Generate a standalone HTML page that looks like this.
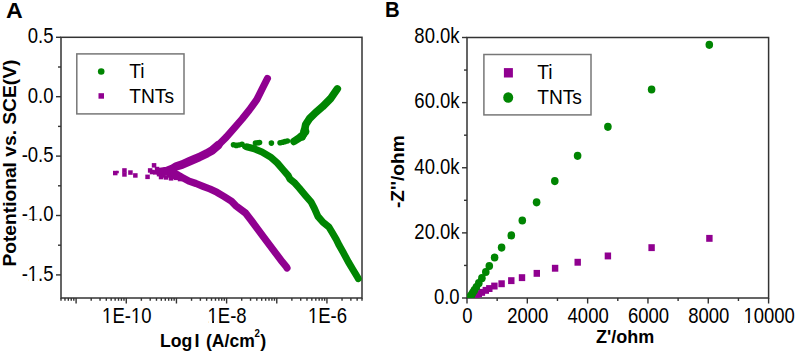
<!DOCTYPE html>
<html><head><meta charset="utf-8"><style>
html,body{margin:0;padding:0;background:#fff;}
svg{display:block;font-family:"Liberation Sans",sans-serif;}
</style></head><body>
<svg width="796" height="354" viewBox="0 0 796 354">
<rect width="796" height="354" fill="#fff"/>
<rect x="61" y="37.3" width="301" height="260.7" fill="none" stroke="#333" stroke-width="1.5"/>
<line x1="61.00" y1="298.00" x2="61.00" y2="300.80" stroke="#333" stroke-width="1.4"/>
<line x1="64.97" y1="298.00" x2="64.97" y2="300.80" stroke="#333" stroke-width="1.4"/>
<line x1="68.33" y1="298.00" x2="68.33" y2="300.80" stroke="#333" stroke-width="1.4"/>
<line x1="71.24" y1="298.00" x2="71.24" y2="300.80" stroke="#333" stroke-width="1.4"/>
<line x1="73.81" y1="298.00" x2="73.81" y2="300.80" stroke="#333" stroke-width="1.4"/>
<line x1="76.10" y1="298.00" x2="76.10" y2="303.50" stroke="#333" stroke-width="1.4"/>
<line x1="91.20" y1="298.00" x2="91.20" y2="300.80" stroke="#333" stroke-width="1.4"/>
<line x1="100.04" y1="298.00" x2="100.04" y2="300.80" stroke="#333" stroke-width="1.4"/>
<line x1="106.31" y1="298.00" x2="106.31" y2="300.80" stroke="#333" stroke-width="1.4"/>
<line x1="111.17" y1="298.00" x2="111.17" y2="300.80" stroke="#333" stroke-width="1.4"/>
<line x1="115.14" y1="298.00" x2="115.14" y2="300.80" stroke="#333" stroke-width="1.4"/>
<line x1="118.50" y1="298.00" x2="118.50" y2="300.80" stroke="#333" stroke-width="1.4"/>
<line x1="121.41" y1="298.00" x2="121.41" y2="300.80" stroke="#333" stroke-width="1.4"/>
<line x1="123.97" y1="298.00" x2="123.97" y2="300.80" stroke="#333" stroke-width="1.4"/>
<line x1="126.27" y1="298.00" x2="126.27" y2="303.50" stroke="#333" stroke-width="1.4"/>
<line x1="141.37" y1="298.00" x2="141.37" y2="300.80" stroke="#333" stroke-width="1.4"/>
<line x1="150.20" y1="298.00" x2="150.20" y2="300.80" stroke="#333" stroke-width="1.4"/>
<line x1="156.47" y1="298.00" x2="156.47" y2="300.80" stroke="#333" stroke-width="1.4"/>
<line x1="161.33" y1="298.00" x2="161.33" y2="300.80" stroke="#333" stroke-width="1.4"/>
<line x1="165.31" y1="298.00" x2="165.31" y2="300.80" stroke="#333" stroke-width="1.4"/>
<line x1="168.66" y1="298.00" x2="168.66" y2="300.80" stroke="#333" stroke-width="1.4"/>
<line x1="171.57" y1="298.00" x2="171.57" y2="300.80" stroke="#333" stroke-width="1.4"/>
<line x1="174.14" y1="298.00" x2="174.14" y2="300.80" stroke="#333" stroke-width="1.4"/>
<line x1="176.44" y1="298.00" x2="176.44" y2="303.50" stroke="#333" stroke-width="1.4"/>
<line x1="191.54" y1="298.00" x2="191.54" y2="300.80" stroke="#333" stroke-width="1.4"/>
<line x1="200.37" y1="298.00" x2="200.37" y2="300.80" stroke="#333" stroke-width="1.4"/>
<line x1="206.64" y1="298.00" x2="206.64" y2="300.80" stroke="#333" stroke-width="1.4"/>
<line x1="211.50" y1="298.00" x2="211.50" y2="300.80" stroke="#333" stroke-width="1.4"/>
<line x1="215.47" y1="298.00" x2="215.47" y2="300.80" stroke="#333" stroke-width="1.4"/>
<line x1="218.83" y1="298.00" x2="218.83" y2="300.80" stroke="#333" stroke-width="1.4"/>
<line x1="221.74" y1="298.00" x2="221.74" y2="300.80" stroke="#333" stroke-width="1.4"/>
<line x1="224.31" y1="298.00" x2="224.31" y2="300.80" stroke="#333" stroke-width="1.4"/>
<line x1="226.60" y1="298.00" x2="226.60" y2="303.50" stroke="#333" stroke-width="1.4"/>
<line x1="241.70" y1="298.00" x2="241.70" y2="300.80" stroke="#333" stroke-width="1.4"/>
<line x1="250.54" y1="298.00" x2="250.54" y2="300.80" stroke="#333" stroke-width="1.4"/>
<line x1="256.81" y1="298.00" x2="256.81" y2="300.80" stroke="#333" stroke-width="1.4"/>
<line x1="261.67" y1="298.00" x2="261.67" y2="300.80" stroke="#333" stroke-width="1.4"/>
<line x1="265.64" y1="298.00" x2="265.64" y2="300.80" stroke="#333" stroke-width="1.4"/>
<line x1="269.00" y1="298.00" x2="269.00" y2="300.80" stroke="#333" stroke-width="1.4"/>
<line x1="271.91" y1="298.00" x2="271.91" y2="300.80" stroke="#333" stroke-width="1.4"/>
<line x1="274.47" y1="298.00" x2="274.47" y2="300.80" stroke="#333" stroke-width="1.4"/>
<line x1="276.77" y1="298.00" x2="276.77" y2="303.50" stroke="#333" stroke-width="1.4"/>
<line x1="291.87" y1="298.00" x2="291.87" y2="300.80" stroke="#333" stroke-width="1.4"/>
<line x1="300.70" y1="298.00" x2="300.70" y2="300.80" stroke="#333" stroke-width="1.4"/>
<line x1="306.97" y1="298.00" x2="306.97" y2="300.80" stroke="#333" stroke-width="1.4"/>
<line x1="311.83" y1="298.00" x2="311.83" y2="300.80" stroke="#333" stroke-width="1.4"/>
<line x1="315.81" y1="298.00" x2="315.81" y2="300.80" stroke="#333" stroke-width="1.4"/>
<line x1="319.16" y1="298.00" x2="319.16" y2="300.80" stroke="#333" stroke-width="1.4"/>
<line x1="322.07" y1="298.00" x2="322.07" y2="300.80" stroke="#333" stroke-width="1.4"/>
<line x1="324.64" y1="298.00" x2="324.64" y2="300.80" stroke="#333" stroke-width="1.4"/>
<line x1="326.94" y1="298.00" x2="326.94" y2="303.50" stroke="#333" stroke-width="1.4"/>
<line x1="342.04" y1="298.00" x2="342.04" y2="300.80" stroke="#333" stroke-width="1.4"/>
<line x1="350.87" y1="298.00" x2="350.87" y2="300.80" stroke="#333" stroke-width="1.4"/>
<line x1="357.14" y1="298.00" x2="357.14" y2="300.80" stroke="#333" stroke-width="1.4"/>
<line x1="362.00" y1="298.00" x2="362.00" y2="300.80" stroke="#333" stroke-width="1.4"/>
<g transform="translate(126.77,322.60) scale(1.0,1.18)"><text id="one0" font-size="18.5" text-anchor="middle">1E-10</text><rect x="-23.85" y="-1.49" width="3.74" height="2.29" fill="#fff"/><rect x="-18.28" y="-1.49" width="3.65" height="2.29" fill="#fff"/><rect x="4.91" y="-1.49" width="3.74" height="2.29" fill="#fff"/><rect x="10.48" y="-1.49" width="3.65" height="2.29" fill="#fff"/></g>
<g transform="translate(227.10,322.60) scale(1.0,1.18)"><text id="one1" font-size="18.5" text-anchor="middle">1E-8</text><rect x="-18.72" y="-1.49" width="3.74" height="2.29" fill="#fff"/><rect x="-13.14" y="-1.49" width="3.65" height="2.29" fill="#fff"/></g>
<g transform="translate(327.44,322.60) scale(1.0,1.18)"><text id="one2" font-size="18.5" text-anchor="middle">1E-6</text><rect x="-18.72" y="-1.49" width="3.74" height="2.29" fill="#fff"/><rect x="-13.14" y="-1.49" width="3.65" height="2.29" fill="#fff"/></g>
<line x1="56.00" y1="274.90" x2="61.00" y2="274.90" stroke="#333" stroke-width="1.4"/>
<line x1="58.00" y1="245.20" x2="61.00" y2="245.20" stroke="#333" stroke-width="1.4"/>
<line x1="56.00" y1="215.50" x2="61.00" y2="215.50" stroke="#333" stroke-width="1.4"/>
<line x1="58.00" y1="185.80" x2="61.00" y2="185.80" stroke="#333" stroke-width="1.4"/>
<line x1="56.00" y1="156.10" x2="61.00" y2="156.10" stroke="#333" stroke-width="1.4"/>
<line x1="58.00" y1="126.40" x2="61.00" y2="126.40" stroke="#333" stroke-width="1.4"/>
<line x1="56.00" y1="96.70" x2="61.00" y2="96.70" stroke="#333" stroke-width="1.4"/>
<line x1="58.00" y1="67.00" x2="61.00" y2="67.00" stroke="#333" stroke-width="1.4"/>
<line x1="56.00" y1="37.30" x2="61.00" y2="37.30" stroke="#333" stroke-width="1.4"/>
<text transform="translate(53.50,43.10) scale(1.0,1.18)" font-size="18.5" text-anchor="end">0.5</text>
<text transform="translate(53.50,102.50) scale(1.0,1.18)" font-size="18.5" text-anchor="end">0.0</text>
<text transform="translate(53.50,161.90) scale(1.0,1.18)" font-size="18.5" text-anchor="end">-0.5</text>
<g transform="translate(53.50,221.30) scale(1.0,1.18)"><text id="one3" font-size="18.5" text-anchor="end">-1.0</text><rect x="-24.90" y="-1.49" width="3.74" height="2.29" fill="#fff"/><rect x="-19.33" y="-1.49" width="3.65" height="2.29" fill="#fff"/></g>
<g transform="translate(53.50,280.70) scale(1.0,1.18)"><text id="one4" font-size="18.5" text-anchor="end">-1.5</text><rect x="-24.90" y="-1.49" width="3.74" height="2.29" fill="#fff"/><rect x="-19.33" y="-1.49" width="3.65" height="2.29" fill="#fff"/></g>
<rect x="467" y="37.5" width="301.60" height="260.5" fill="none" stroke="#333" stroke-width="1.5"/>
<line x1="467.00" y1="298.00" x2="467.00" y2="303.50" stroke="#333" stroke-width="1.4"/>
<line x1="497.16" y1="298.00" x2="497.16" y2="301.00" stroke="#333" stroke-width="1.4"/>
<line x1="527.32" y1="298.00" x2="527.32" y2="303.50" stroke="#333" stroke-width="1.4"/>
<line x1="557.48" y1="298.00" x2="557.48" y2="301.00" stroke="#333" stroke-width="1.4"/>
<line x1="587.64" y1="298.00" x2="587.64" y2="303.50" stroke="#333" stroke-width="1.4"/>
<line x1="617.80" y1="298.00" x2="617.80" y2="301.00" stroke="#333" stroke-width="1.4"/>
<line x1="647.96" y1="298.00" x2="647.96" y2="303.50" stroke="#333" stroke-width="1.4"/>
<line x1="678.12" y1="298.00" x2="678.12" y2="301.00" stroke="#333" stroke-width="1.4"/>
<line x1="708.28" y1="298.00" x2="708.28" y2="303.50" stroke="#333" stroke-width="1.4"/>
<line x1="738.44" y1="298.00" x2="738.44" y2="301.00" stroke="#333" stroke-width="1.4"/>
<line x1="768.60" y1="298.00" x2="768.60" y2="303.50" stroke="#333" stroke-width="1.4"/>
<text transform="translate(467.50,322.60) scale(1.0,1.18)" font-size="18.5" text-anchor="middle">0</text>
<text transform="translate(527.82,322.60) scale(1.0,1.18)" font-size="18.5" text-anchor="middle">2000</text>
<text transform="translate(588.14,322.60) scale(1.0,1.18)" font-size="18.5" text-anchor="middle">4000</text>
<text transform="translate(648.46,322.60) scale(1.0,1.18)" font-size="18.5" text-anchor="middle">6000</text>
<text transform="translate(708.78,322.60) scale(1.0,1.18)" font-size="18.5" text-anchor="middle">8000</text>
<g transform="translate(769.10,322.60) scale(1.0,1.18)"><text id="one5" font-size="18.5" text-anchor="middle">10000</text><rect x="-24.90" y="-1.49" width="3.74" height="2.29" fill="#fff"/><rect x="-19.32" y="-1.49" width="3.65" height="2.29" fill="#fff"/></g>
<line x1="462.00" y1="298.00" x2="467.00" y2="298.00" stroke="#333" stroke-width="1.4"/>
<line x1="464.00" y1="265.44" x2="467.00" y2="265.44" stroke="#333" stroke-width="1.4"/>
<line x1="462.00" y1="232.88" x2="467.00" y2="232.88" stroke="#333" stroke-width="1.4"/>
<line x1="464.00" y1="200.31" x2="467.00" y2="200.31" stroke="#333" stroke-width="1.4"/>
<line x1="462.00" y1="167.75" x2="467.00" y2="167.75" stroke="#333" stroke-width="1.4"/>
<line x1="464.00" y1="135.19" x2="467.00" y2="135.19" stroke="#333" stroke-width="1.4"/>
<line x1="462.00" y1="102.62" x2="467.00" y2="102.62" stroke="#333" stroke-width="1.4"/>
<line x1="464.00" y1="70.06" x2="467.00" y2="70.06" stroke="#333" stroke-width="1.4"/>
<line x1="462.00" y1="37.50" x2="467.00" y2="37.50" stroke="#333" stroke-width="1.4"/>
<text transform="translate(459.60,303.80) scale(1.0,1.18)" font-size="18.5" text-anchor="end">0.0</text>
<text transform="translate(459.60,238.68) scale(1.0,1.18)" font-size="18.5" text-anchor="end">20.0k</text>
<text transform="translate(459.60,173.55) scale(1.0,1.18)" font-size="18.5" text-anchor="end">40.0k</text>
<text transform="translate(459.60,108.42) scale(1.0,1.18)" font-size="18.5" text-anchor="end">60.0k</text>
<text transform="translate(459.60,43.30) scale(1.0,1.18)" font-size="18.5" text-anchor="end">80.0k</text>
<text transform="translate(6.00,18.00) scale(1.04,1.0)" font-size="22.3" text-anchor="start" font-weight="bold">A</text>
<text transform="translate(385.00,17.40) scale(0.91,1.0)" font-size="22.3" text-anchor="start" font-weight="bold">B</text>
<text transform="translate(160.00,347.20) scale(0.98,1.0)" font-size="18" text-anchor="start" font-weight="bold">Log</text>
<text transform="translate(194.60,347.20) scale(1.0,1.0)" font-size="18" text-anchor="start" font-weight="bold">I</text>
<text transform="translate(206.00,347.20) scale(0.975,1.0)" font-size="18" text-anchor="start" font-weight="bold">(A/cm</text>
<text transform="translate(254.60,336.80) scale(0.88,1.0)" font-size="11" text-anchor="start" font-weight="bold">2</text>
<text transform="translate(260.30,347.20) scale(1.0,1.0)" font-size="18" text-anchor="start" font-weight="bold">)</text>
<text transform="translate(596.00,343.40) scale(1.0,1.0)" font-size="18" text-anchor="start" font-weight="bold">Z'/ohm</text>
<text transform="translate(15.80,266.60) rotate(-90) scale(1.067,1.0)" font-size="18" text-anchor="start" font-weight="bold">Potentional vs. SCE(V)</text>
<text transform="translate(404.30,208.00) rotate(-90) scale(1.06,1.0)" font-size="18" text-anchor="start" font-weight="bold">-Z''/ohm</text>
<rect x="76.8" y="53.9" width="107.2" height="60" fill="none" stroke="#777" stroke-width="1.5"/>
<circle cx="101.2" cy="71.5" r="3.3" fill="#008502"/>
<rect x="98.5" y="93.2" width="5.5" height="5.5" fill="#900090"/>
<text transform="translate(129.30,77.90) scale(1.0,1.06)" font-size="19.2" text-anchor="start">Ti</text>
<text transform="translate(129.30,102.50) scale(1.0,1.06)" font-size="19.2" text-anchor="start">TNTs</text>
<rect x="483.9" y="54.5" width="107.1" height="60.4" fill="none" stroke="#777" stroke-width="1.5"/>
<rect x="503.9" y="68.1" width="9" height="9.4" fill="#900090"/>
<ellipse cx="508.2" cy="97.5" rx="5" ry="5.3" fill="#008502"/>
<text transform="translate(537.20,79.30) scale(1.0,1.06)" font-size="19.2" text-anchor="start">Ti</text>
<text transform="translate(537.20,103.90) scale(1.0,1.06)" font-size="19.2" text-anchor="start">TNTs</text>
<rect x="113.0" y="170.8" width="4.5" height="4.5" fill="#900090"/>
<rect x="116.3" y="170.8" width="2.5" height="2.5" fill="#900090"/>
<rect x="122.2" y="168.2" width="4.5" height="4.5" fill="#900090"/>
<rect x="122.2" y="172.2" width="4.5" height="4.5" fill="#900090"/>
<rect x="128.2" y="170.3" width="4.5" height="4.5" fill="#900090"/>
<rect x="133.1" y="173.2" width="4.5" height="4.5" fill="#900090"/>
<rect x="145.3" y="174.6" width="4.5" height="4.5" fill="#900090"/>
<rect x="147.9" y="168.2" width="4.5" height="4.5" fill="#900090"/>
<rect x="151.8" y="163.1" width="4.5" height="4.5" fill="#900090"/>
<rect x="153.1" y="170.1" width="4.5" height="4.5" fill="#900090"/>
<rect x="156.8" y="171.9" width="4.5" height="4.5" fill="#900090"/>
<rect x="160.7" y="173.2" width="4.5" height="4.5" fill="#900090"/>
<rect x="163.2" y="167.6" width="4.5" height="4.5" fill="#900090"/>
<rect x="166.9" y="173.2" width="4.5" height="4.5" fill="#900090"/>
<rect x="170.8" y="174.6" width="4.5" height="4.5" fill="#900090"/>
<rect x="169.6" y="168.2" width="4.5" height="4.5" fill="#900090"/>
<rect x="149.8" y="169.8" width="4.5" height="4.5" fill="#900090"/>
<rect x="154.8" y="166.8" width="4.5" height="4.5" fill="#900090"/>
<rect x="163.8" y="175.2" width="4.5" height="4.5" fill="#900090"/>
<rect x="168.8" y="176.1" width="4.5" height="4.5" fill="#900090"/>
<rect x="173.8" y="175.6" width="4.5" height="4.5" fill="#900090"/>
<rect x="158.8" y="174.8" width="4.5" height="4.5" fill="#900090"/>
<rect x="177.8" y="176.8" width="4.5" height="4.5" fill="#900090"/>
<polyline points="160.0,172.0 167.0,171.0 172.0,169.0 176.0,166.5 182.0,164.6 189.0,161.5 196.0,158.5 199.0,157.3 206.9,153.4 212.0,150.5 218.4,145.0" fill="none" stroke="#900090" stroke-width="8.5" stroke-linejoin="round" stroke-linecap="round"/>
<polyline points="212.0,150.5 218.4,145.0 226.3,137.1 234.2,128.1 242.1,119.0 249.3,110.0 256.8,99.7 262.1,89.0 267.4,78.5" fill="none" stroke="#900090" stroke-width="7.2" stroke-linejoin="round" stroke-linecap="round"/>
<polyline points="174.0,173.0 178.0,175.0 182.0,177.4 189.0,181.2 196.0,183.5 203.0,186.3 210.0,189.0 217.0,192.3 224.0,196.5 231.5,201.3 235.6,205.6 245.5,213.0 251.3,220.5 257.5,228.9 263.8,237.4 270.2,245.9 276.6,254.4 282.2,261.8 286.5,267.1 287.0,268.0" fill="none" stroke="#900090" stroke-width="7.2" stroke-linejoin="round" stroke-linecap="round"/>
<circle cx="233.5" cy="144.8" r="2.8" fill="#008502"/>
<circle cx="236.3" cy="145.4" r="2.8" fill="#008502"/>
<circle cx="239.0" cy="145.0" r="2.8" fill="#008502"/>
<circle cx="242.0" cy="144.2" r="2.8" fill="#008502"/>
<circle cx="244.8" cy="146.5" r="2.8" fill="#008502"/>
<circle cx="248.0" cy="146.5" r="2.8" fill="#008502"/>
<circle cx="255.5" cy="143.1" r="2.8" fill="#008502"/>
<circle cx="258.0" cy="142.7" r="2.8" fill="#008502"/>
<circle cx="259.5" cy="142.5" r="2.8" fill="#008502"/>
<circle cx="271.4" cy="143.1" r="2.8" fill="#008502"/>
<circle cx="280.1" cy="142.7" r="2.8" fill="#008502"/>
<circle cx="282.5" cy="142.2" r="2.8" fill="#008502"/>
<circle cx="285.0" cy="141.6" r="2.8" fill="#008502"/>
<circle cx="287.4" cy="141.0" r="2.8" fill="#008502"/>
<polyline points="294.0,141.4 298.8,138.3 303.7,134.3 304.7,129.4 305.7,124.5 309.6,118.5 315.6,112.6 322.5,106.7 330.4,98.8 337.3,88.9" fill="none" stroke="#008502" stroke-width="7.6" stroke-linejoin="round" stroke-linecap="round"/>
<circle cx="304.8" cy="131.5" r="4.6" fill="#008502"/>
<circle cx="302.0" cy="136.5" r="4.2" fill="#008502"/>
<polyline points="246.7,146.8 253.5,148.5 262.0,151.9 270.4,156.9 277.2,162.9 283.1,169.7 288.2,175.6 289.9,179.0 294.2,182.4 299.2,188.0 305.2,195.2 311.1,202.0 314.5,208.7 317.9,216.4 323.0,222.3 328.9,227.0 332.5,233.0 336.3,239.5 339.3,245.6 343.7,253.3 348.3,261.9 353.0,269.7 357.7,277.5 358.3,278.7" fill="none" stroke="#008502" stroke-width="7" stroke-linejoin="round" stroke-linecap="round"/>
<defs><clipPath id="cb"><rect x="467" y="37.5" width="301.6" height="260.5"/></clipPath></defs><g clip-path="url(#cb)">
<rect x="706.2" y="234.9" width="6.4" height="6.9" fill="#900090"/>
<rect x="648.4" y="244.2" width="6.4" height="6.9" fill="#900090"/>
<rect x="604.7" y="252.5" width="6.4" height="6.9" fill="#900090"/>
<rect x="574.5" y="258.8" width="6.4" height="6.9" fill="#900090"/>
<rect x="551.9" y="264.8" width="6.4" height="6.9" fill="#900090"/>
<rect x="533.6" y="269.9" width="6.4" height="6.9" fill="#900090"/>
<rect x="518.8" y="274.2" width="6.4" height="6.9" fill="#900090"/>
<rect x="508.1" y="277.2" width="6.4" height="6.9" fill="#900090"/>
<rect x="498.4" y="280.3" width="6.4" height="6.9" fill="#900090"/>
<rect x="491.2" y="282.6" width="6.4" height="6.9" fill="#900090"/>
<rect x="486.1" y="285.1" width="6.4" height="6.9" fill="#900090"/>
<rect x="482.6" y="286.9" width="6.4" height="6.9" fill="#900090"/>
<rect x="478.7" y="288.9" width="6.4" height="6.9" fill="#900090"/>
<rect x="475.6" y="290.4" width="6.4" height="6.9" fill="#900090"/>
<rect x="473.2" y="291.6" width="6.4" height="6.9" fill="#900090"/>
<rect x="471.2" y="292.6" width="6.4" height="6.9" fill="#900090"/>
<rect x="469.7" y="293.4" width="6.4" height="6.9" fill="#900090"/>
<ellipse cx="709.3" cy="44.8" rx="3.8" ry="4.1" fill="#008502"/>
<ellipse cx="651.6" cy="89.5" rx="3.8" ry="4.1" fill="#008502"/>
<ellipse cx="607.9" cy="126.8" rx="3.8" ry="4.1" fill="#008502"/>
<ellipse cx="577.6" cy="155.8" rx="3.8" ry="4.1" fill="#008502"/>
<ellipse cx="554.8" cy="181.1" rx="3.8" ry="4.1" fill="#008502"/>
<ellipse cx="536.6" cy="202.3" rx="3.8" ry="4.1" fill="#008502"/>
<ellipse cx="522.3" cy="220.5" rx="3.8" ry="4.1" fill="#008502"/>
<ellipse cx="511.3" cy="235.4" rx="3.8" ry="4.1" fill="#008502"/>
<ellipse cx="501.6" cy="247.6" rx="3.8" ry="4.1" fill="#008502"/>
<ellipse cx="494.6" cy="257.5" rx="3.8" ry="4.1" fill="#008502"/>
<ellipse cx="489.3" cy="266.0" rx="3.8" ry="4.1" fill="#008502"/>
<ellipse cx="485.8" cy="272.0" rx="3.8" ry="4.1" fill="#008502"/>
<ellipse cx="481.9" cy="278.2" rx="3.8" ry="4.1" fill="#008502"/>
<ellipse cx="478.8" cy="283.2" rx="3.8" ry="4.1" fill="#008502"/>
<ellipse cx="476.4" cy="287.0" rx="3.8" ry="4.1" fill="#008502"/>
<ellipse cx="474.4" cy="290.2" rx="3.8" ry="4.1" fill="#008502"/>
<ellipse cx="472.9" cy="292.6" rx="3.8" ry="4.1" fill="#008502"/>
<ellipse cx="471.7" cy="294.6" rx="3.8" ry="4.1" fill="#008502"/>
<ellipse cx="470.7" cy="296.2" rx="3.8" ry="4.1" fill="#008502"/>
<ellipse cx="470.0" cy="297.3" rx="3.8" ry="4.1" fill="#008502"/>
<ellipse cx="469.4" cy="298.2" rx="3.8" ry="4.1" fill="#008502"/>
</g>
</svg>
</body></html>
